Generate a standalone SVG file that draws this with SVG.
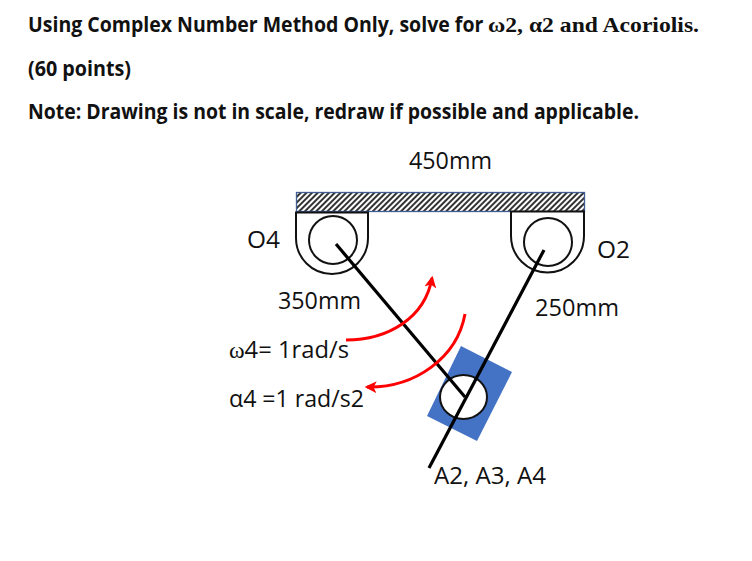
<svg xmlns="http://www.w3.org/2000/svg" width="752" height="561" viewBox="0 0 752 561">
<style>
text{fill:#111}
.h{font-family:"Open Sans","Liberation Sans",sans-serif;font-size:21.500px;font-weight:700}
.s{font-family:"Liberation Serif",serif;font-weight:700}
.l{font-family:"Open Sans","Liberation Sans",sans-serif;font-size:23px}
.o{fill:#fff;stroke:#111;stroke-width:2}
.k{fill:none;stroke:#000;stroke-linecap:butt}
.r{fill:none;stroke:#f00;stroke-width:3}
</style>
<defs>
<pattern id="hatch" width="4" height="4" patternUnits="userSpaceOnUse" patternTransform="rotate(45)">
<rect width="4" height="4" fill="#fff"/><rect width="2" height="4" fill="#333"/>
</pattern>
<marker id="ah" viewBox="0 0 10 10" refX="8" refY="5" markerWidth="4" markerHeight="4" orient="auto-start-reverse" markerUnits="strokeWidth">
<path d="M0 0L10 5L0 10L2.500 5Z" fill="#f00"/>
</marker>
</defs>
<g id="title">
<text class="h" transform="translate(28 32) scale(.908 1)">Using Complex Number Method Only, solve for</text>
<text class="s" x="488" y="32" font-size="21" textLength="211" lengthAdjust="spacingAndGlyphs">ω2, α2 and Acoriolis.</text>
<text class="h" x="28" y="76" textLength="103" lengthAdjust="spacingAndGlyphs">(60 points)</text>
<text class="h" x="28" y="119" textLength="611" lengthAdjust="spacingAndGlyphs">Note: Drawing is not in scale, redraw if possible and applicable.</text>
</g>
<g id="wall"><rect x="296.500" y="192.500" width="288" height="19" fill="url(#hatch)" stroke="#3f5f95" stroke-width="1.300"/></g>
<g id="O4">
<path class="o" d="M296 212.500H368V238A36 36 0 0 1 296 238Z"/>
<circle class="o" cx="333" cy="240" r="24"/>
<text class="l" x="247" y="248" textLength="33" lengthAdjust="spacingAndGlyphs">O4</text>
</g>
<g id="O2">
<path class="o" d="M511 211.500H584V236A36.500 36.500 0 0 1 511 236Z"/>
<circle class="o" cx="548" cy="242" r="24"/>
<text class="l" x="597" y="258" textLength="33" lengthAdjust="spacingAndGlyphs">O2</text>
</g>
<g id="slider">
<path d="M461 346L512 372L477 441L427 416Z" fill="#4472c4"/>
<ellipse class="o" cx="463.500" cy="397" rx="23.500" ry="22"/>
</g>
<g id="connectors">
<path class="k" stroke-width="3.200" d="M336 244L465 397"/>
<path class="k" stroke-width="3.200" d="M544 250L429 468"/>
<path class="r" marker-end="url(#ah)" d="M346 340C388 340 425 318 432 278"/>
<path class="r" marker-end="url(#ah)" d="M465 314C457 358 415 388 367 387"/>
</g>
<g id="labels">
<text class="l" x="409" y="169" textLength="83" lengthAdjust="spacingAndGlyphs">450mm</text>
<text class="l" x="278" y="309" textLength="83" lengthAdjust="spacingAndGlyphs">350mm</text>
<text class="l" x="535" y="316" textLength="84" lengthAdjust="spacingAndGlyphs">250mm</text>
<text class="l" x="229" y="358" textLength="120" lengthAdjust="spacingAndGlyphs"><tspan font-family="Liberation Serif">ω</tspan>4= 1rad/s</text>
<text class="l" x="229" y="407" textLength="135" lengthAdjust="spacingAndGlyphs">α4 =1 rad/s2</text>
<text class="l" x="434" y="484" textLength="112" lengthAdjust="spacingAndGlyphs">A2, A3, A4</text>
</g>
</svg>
